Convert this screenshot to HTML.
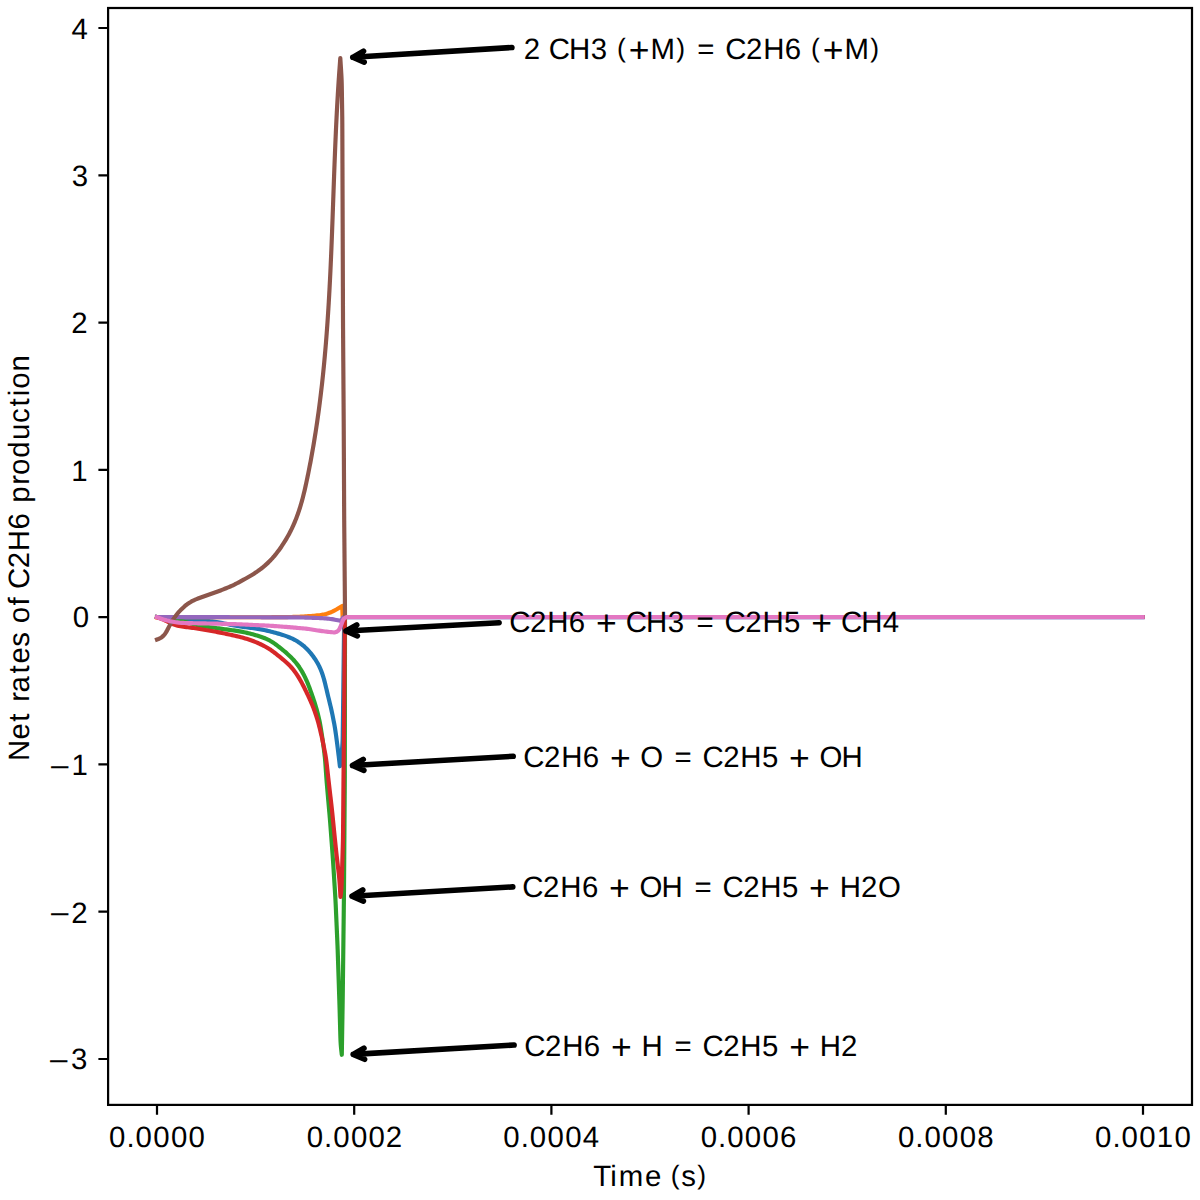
<!DOCTYPE html><html><head><meta charset="utf-8"><style>html,body{margin:0;padding:0;background:#fff;overflow:hidden;}svg{display:block;}text{font-family:"Liberation Sans",sans-serif;fill:#000;text-rendering:geometricPrecision;}</style></head><body>
<svg width="1200" height="1200" viewBox="0 0 1200 1200">
<rect width="1200" height="1200" fill="#fff"/>
<g fill="none" stroke-width="4.17" stroke-linecap="square" stroke-linejoin="round">
<polyline stroke="#1f77b4" points="157.00,617.00 158.46,617.32 159.93,617.63 161.40,617.93 162.87,618.23 164.34,618.51 165.81,618.77 167.29,619.01 168.77,619.22 170.25,619.42 171.74,619.59 173.23,619.75 174.72,619.88 176.21,619.99 177.71,620.09 179.20,620.17 180.70,620.24 182.20,620.29 183.69,620.34 185.19,620.39 186.69,620.42 188.19,620.46 189.69,620.49 191.19,620.52 192.68,620.55 194.18,620.58 195.68,620.61 197.18,620.64 198.68,620.68 200.18,620.71 201.67,620.75 203.17,620.79 204.67,620.85 206.16,620.92 207.66,621.01 209.15,621.12 210.63,621.26 212.12,621.43 213.60,621.62 215.08,621.84 216.56,622.08 218.04,622.33 219.51,622.59 220.98,622.87 222.46,623.15 223.93,623.44 225.40,623.73 226.87,624.03 228.34,624.32 229.81,624.60 231.28,624.89 232.75,625.16 234.23,625.43 235.70,625.69 237.18,625.94 238.66,626.19 240.14,626.42 241.62,626.65 243.10,626.86 244.59,627.07 246.07,627.27 247.56,627.47 249.04,627.66 250.53,627.85 252.02,628.04 253.50,628.24 254.99,628.44 256.47,628.65 257.95,628.87 259.43,629.12 260.90,629.38 262.37,629.66 263.84,629.96 265.30,630.27 266.76,630.60 268.22,630.95 269.68,631.30 271.13,631.67 272.58,632.04 274.03,632.42 275.48,632.81 276.92,633.21 278.36,633.62 279.80,634.04 281.23,634.47 282.66,634.92 284.08,635.39 285.50,635.88 286.90,636.39 288.30,636.93 289.68,637.49 291.05,638.08 292.41,638.70 293.74,639.36 295.06,640.06 296.35,640.79 297.62,641.57 298.87,642.38 300.10,643.22 301.30,644.10 302.48,645.01 303.64,645.95 304.76,646.92 305.85,647.93 306.91,648.98 307.94,650.05 308.95,651.15 309.93,652.28 310.88,653.43 311.81,654.60 312.72,655.78 313.60,656.99 314.45,658.22 315.28,659.46 316.09,660.71 316.87,661.99 317.62,663.28 318.34,664.59 319.02,665.91 319.67,667.25 320.28,668.61 320.87,669.99 321.42,671.37 321.94,672.77 322.44,674.18 322.90,675.60 323.35,677.03 323.76,678.47 324.16,679.91 324.55,681.36 324.92,682.81 325.28,684.26 325.63,685.72 325.98,687.17 326.33,688.63 326.67,690.09 327.01,691.55 327.36,693.01 327.70,694.47 328.05,695.93 328.40,697.38 328.75,698.84 329.11,700.30 329.47,701.75 329.82,703.21 330.18,704.66 330.53,706.12 330.87,707.58 331.21,709.04 331.53,710.50 331.85,711.97 332.16,713.43 332.47,714.90 332.77,716.37 333.06,717.84 333.35,719.31 333.64,720.78 333.93,722.25 334.20,723.72 334.47,725.20 334.73,726.67 334.98,728.15 335.21,729.63 335.44,731.11 335.65,732.59 335.86,734.08 336.07,735.56 336.27,737.05 336.47,738.53 336.67,740.02 336.87,741.50 337.06,742.99 337.26,744.48 337.45,745.96 337.64,747.45 337.83,748.94 338.02,750.42 338.20,751.91 338.38,753.40 338.56,754.89 338.74,756.37 338.91,757.86 339.09,759.35 339.26,760.84 339.44,762.33 339.61,763.82 339.78,765.31 339.90,766.30 340.09,764.81 340.28,763.33 340.47,761.84 340.65,760.35 340.84,758.87 341.03,757.38 341.22,755.89 341.40,754.40 341.58,752.92 341.76,751.43 341.93,749.94 342.08,748.45 342.22,746.96 342.34,745.47 342.44,743.98 342.52,742.48 342.59,740.99 342.64,739.49 342.67,737.99 342.70,736.49 342.73,735.00 342.75,733.50 342.77,732.00 342.79,730.50 342.81,729.00 342.83,727.50 342.85,726.00 342.87,724.51 342.89,723.01 342.91,721.51 342.93,720.01 342.95,718.51 342.97,717.01 342.99,715.51 343.01,714.02 343.03,712.52 343.05,711.02 343.07,709.52 343.09,708.02 343.11,706.52 343.13,705.02 343.15,703.52 343.17,702.03 343.19,700.53 343.21,699.03 343.23,697.53 343.25,696.03 343.27,694.53 343.28,693.03 343.30,691.54 343.32,690.04 343.34,688.54 343.36,687.04 343.37,685.54 343.39,684.04 343.41,682.54 343.43,681.04 343.45,679.55 343.46,678.05 343.48,676.55 343.50,675.05 343.52,673.55 343.54,672.05 343.56,670.55 343.57,669.05 343.59,667.56 343.61,666.06 343.63,664.56 343.65,663.06 343.66,661.56 343.68,660.06 343.70,658.56 343.72,657.07 343.74,655.57 343.75,654.07 343.77,652.57 343.79,651.07 343.81,649.57 343.83,648.07 343.84,646.57 343.86,645.08 343.88,643.58 343.90,642.08 343.92,640.58 343.93,639.08 343.95,637.58 343.97,636.08 343.99,634.58 344.01,633.09 344.03,631.59 344.04,630.09 344.06,628.59 344.08,627.09 344.10,625.59 344.12,624.09 344.13,622.60 344.15,621.10 344.17,619.60 344.19,618.10 344.20,617.10 1142.60,617.10"/>
<polyline stroke="#ff7f0e" points="157.00,617.30 158.50,617.30 159.99,617.30 161.49,617.30 162.99,617.30 164.49,617.29 165.98,617.29 167.48,617.29 168.98,617.29 170.48,617.29 171.97,617.29 173.47,617.29 174.97,617.29 176.46,617.28 177.96,617.28 179.46,617.28 180.96,617.28 182.45,617.28 183.95,617.28 185.45,617.28 186.94,617.28 188.44,617.27 189.94,617.27 191.44,617.27 192.93,617.27 194.43,617.27 195.93,617.27 197.43,617.27 198.92,617.27 200.42,617.26 201.92,617.26 203.41,617.26 204.91,617.26 206.41,617.26 207.91,617.26 209.40,617.26 210.90,617.26 212.40,617.25 213.90,617.25 215.39,617.25 216.89,617.25 218.39,617.25 219.88,617.25 221.38,617.25 222.88,617.25 224.38,617.25 225.87,617.24 227.37,617.24 228.87,617.24 230.36,617.24 231.86,617.24 233.36,617.24 234.86,617.24 236.35,617.24 237.85,617.23 239.35,617.23 240.85,617.23 242.34,617.23 243.84,617.23 245.34,617.23 246.83,617.23 248.33,617.23 249.83,617.22 251.33,617.22 252.82,617.22 254.32,617.22 255.82,617.22 257.31,617.22 258.81,617.22 260.31,617.22 261.81,617.21 263.30,617.21 264.80,617.21 266.30,617.21 267.80,617.21 269.29,617.21 270.79,617.21 272.29,617.20 273.78,617.20 275.28,617.19 276.78,617.19 278.28,617.18 279.77,617.16 281.27,617.15 282.77,617.13 284.26,617.10 285.76,617.08 287.26,617.05 288.76,617.02 290.25,616.99 291.75,616.96 293.25,616.92 294.74,616.89 296.24,616.84 297.73,616.79 299.23,616.73 300.72,616.66 302.22,616.58 303.71,616.50 305.21,616.41 306.70,616.31 308.20,616.20 309.69,616.09 311.18,615.98 312.67,615.86 314.16,615.73 315.65,615.59 317.14,615.44 318.62,615.26 320.10,615.07 321.58,614.84 323.04,614.57 324.50,614.27 325.94,613.92 327.36,613.51 328.77,613.06 330.16,612.55 331.52,611.98 332.86,611.36 334.18,610.68 335.47,609.97 336.75,609.23 338.01,608.46 339.27,607.69 340.53,606.92 341.78,606.16 342.20,605.90 342.60,617.00 1142.60,617.00"/>
<polyline stroke="#2ca02c" points="157.00,617.00 158.48,617.22 159.97,617.43 161.45,617.64 162.94,617.86 164.42,618.07 165.91,618.28 167.39,618.49 168.88,618.70 170.36,618.92 171.84,619.14 173.32,619.38 174.80,619.63 176.27,619.91 177.73,620.20 179.20,620.52 180.66,620.86 182.12,621.21 183.57,621.56 185.03,621.93 186.48,622.30 187.93,622.67 189.38,623.04 190.84,623.42 192.29,623.78 193.75,624.15 195.20,624.50 196.66,624.85 198.12,625.17 199.59,625.48 201.06,625.77 202.53,626.04 204.01,626.29 205.49,626.53 206.97,626.75 208.45,626.97 209.94,627.19 211.42,627.40 212.91,627.60 214.39,627.81 215.88,628.02 217.36,628.22 218.85,628.42 220.34,628.63 221.82,628.82 223.31,629.02 224.80,629.22 226.28,629.41 227.77,629.61 229.26,629.81 230.74,630.00 232.23,630.20 233.72,630.41 235.20,630.62 236.68,630.84 238.16,631.08 239.64,631.33 241.11,631.60 242.58,631.89 244.05,632.20 245.51,632.52 246.97,632.86 248.43,633.21 249.88,633.57 251.34,633.95 252.78,634.33 254.23,634.73 255.67,635.15 257.11,635.57 258.54,636.01 259.96,636.47 261.38,636.95 262.79,637.45 264.19,637.98 265.57,638.54 266.93,639.13 268.27,639.77 269.59,640.46 270.88,641.19 272.14,641.97 273.38,642.79 274.61,643.64 275.82,644.52 277.02,645.41 278.21,646.32 279.40,647.23 280.58,648.16 281.75,649.09 282.91,650.03 284.07,650.99 285.21,651.96 286.34,652.94 287.45,653.94 288.55,654.96 289.64,655.98 290.72,657.03 291.78,658.08 292.82,659.16 293.83,660.25 294.82,661.37 295.79,662.51 296.72,663.67 297.63,664.86 298.51,666.06 299.37,667.29 300.19,668.53 300.99,669.80 301.76,671.08 302.50,672.37 303.22,673.69 303.91,675.01 304.58,676.35 305.23,677.70 305.87,679.06 306.48,680.42 307.07,681.80 307.65,683.18 308.21,684.57 308.76,685.96 309.30,687.36 309.82,688.77 310.34,690.18 310.85,691.59 311.35,693.00 311.85,694.42 312.34,695.83 312.83,697.25 313.31,698.67 313.78,700.09 314.25,701.52 314.71,702.94 315.16,704.37 315.60,705.81 316.02,707.25 316.43,708.69 316.84,710.13 317.23,711.58 317.62,713.03 317.99,714.48 318.36,715.93 318.71,717.39 319.04,718.85 319.36,720.31 319.66,721.78 319.94,723.25 320.21,724.73 320.47,726.20 320.72,727.68 320.96,729.16 321.20,730.64 321.43,732.12 321.67,733.61 321.90,735.09 322.12,736.57 322.34,738.05 322.56,739.54 322.78,741.02 322.98,742.51 323.19,743.99 323.39,745.48 323.59,746.97 323.79,748.45 323.98,749.94 324.17,751.43 324.36,752.92 324.53,754.40 324.70,755.89 324.86,757.39 325.00,758.88 325.13,760.37 325.26,761.87 325.37,763.36 325.48,764.86 325.59,766.35 325.69,767.85 325.79,769.34 325.89,770.84 325.99,772.34 326.09,773.83 326.20,775.33 326.30,776.83 326.41,778.32 326.53,779.82 326.64,781.31 326.76,782.81 326.89,784.30 327.01,785.80 327.14,787.29 327.27,788.79 327.40,790.28 327.53,791.78 327.66,793.27 327.79,794.76 327.92,796.26 328.05,797.75 328.18,799.25 328.31,800.74 328.45,802.23 328.58,803.73 328.71,805.22 328.84,806.72 328.97,808.21 329.10,809.71 329.23,811.20 329.36,812.69 329.49,814.19 329.62,815.68 329.74,817.18 329.87,818.67 329.99,820.17 330.11,821.66 330.23,823.16 330.34,824.65 330.46,826.15 330.57,827.64 330.68,829.14 330.80,830.64 330.91,832.13 331.02,833.63 331.13,835.12 331.25,836.62 331.36,838.11 331.47,839.61 331.58,841.11 331.70,842.60 331.81,844.10 331.92,845.59 332.03,847.09 332.14,848.58 332.26,850.08 332.37,851.58 332.48,853.07 332.59,854.57 332.70,856.06 332.80,857.56 332.91,859.06 333.01,860.55 333.11,862.05 333.21,863.55 333.31,865.04 333.41,866.54 333.50,868.04 333.60,869.53 333.69,871.03 333.78,872.53 333.88,874.02 333.97,875.52 334.06,877.02 334.16,878.52 334.25,880.01 334.34,881.51 334.44,883.01 334.53,884.50 334.62,886.00 334.72,887.50 334.81,888.99 334.90,890.49 335.00,891.99 335.09,893.49 335.18,894.98 335.27,896.48 335.35,897.98 335.44,899.48 335.51,900.97 335.59,902.47 335.66,903.97 335.74,905.47 335.80,906.97 335.87,908.46 335.94,909.96 336.01,911.46 336.07,912.96 336.14,914.46 336.21,915.96 336.27,917.45 336.34,918.95 336.40,920.45 336.47,921.95 336.54,923.45 336.60,924.95 336.67,926.45 336.74,927.94 336.80,929.44 336.87,930.94 336.93,932.44 337.00,933.94 337.07,935.44 337.13,936.93 337.20,938.43 337.26,939.93 337.33,941.43 337.39,942.93 337.45,944.43 337.52,945.93 337.57,947.43 337.63,948.92 337.69,950.42 337.74,951.92 337.79,953.42 337.84,954.92 337.89,956.42 337.94,957.92 337.99,959.42 338.04,960.92 338.09,962.42 338.14,963.91 338.19,965.41 338.24,966.91 338.29,968.41 338.34,969.91 338.39,971.41 338.44,972.91 338.49,974.41 338.54,975.91 338.59,977.41 338.64,978.91 338.69,980.40 338.74,981.90 338.79,983.40 338.84,984.90 338.89,986.40 338.93,987.90 338.98,989.40 339.03,990.90 339.08,992.40 339.13,993.90 339.18,995.40 339.23,996.90 339.28,998.39 339.33,999.89 339.38,1001.39 339.42,1002.89 339.47,1004.39 339.52,1005.89 339.56,1007.39 339.60,1008.89 339.65,1010.39 339.69,1011.89 339.73,1013.39 339.77,1014.89 339.81,1016.39 339.85,1017.88 339.90,1019.38 339.94,1020.88 339.98,1022.38 340.02,1023.88 340.06,1025.38 340.10,1026.88 340.14,1028.38 340.18,1029.88 340.23,1031.38 340.27,1032.88 340.31,1034.38 340.36,1035.88 340.40,1037.38 340.46,1038.87 340.52,1040.37 340.59,1041.87 340.68,1043.37 340.78,1044.86 340.90,1046.35 341.03,1047.85 341.18,1049.34 341.34,1050.83 341.51,1052.32 341.68,1053.81 341.80,1054.80 341.82,1053.30 341.85,1051.80 341.87,1050.30 341.90,1048.80 341.92,1047.30 341.95,1045.80 341.97,1044.31 342.00,1042.81 342.02,1041.31 342.05,1039.81 342.07,1038.31 342.10,1036.81 342.12,1035.31 342.14,1033.81 342.17,1032.31 342.19,1030.81 342.22,1029.31 342.24,1027.81 342.27,1026.32 342.29,1024.82 342.32,1023.32 342.34,1021.82 342.37,1020.32 342.39,1018.82 342.42,1017.32 342.44,1015.82 342.46,1014.32 342.49,1012.82 342.51,1011.32 342.54,1009.82 342.56,1008.33 342.59,1006.83 342.61,1005.33 342.63,1003.83 342.66,1002.33 342.68,1000.83 342.70,999.33 342.72,997.83 342.74,996.33 342.76,994.83 342.78,993.33 342.80,991.83 342.82,990.33 342.83,988.84 342.85,987.34 342.87,985.84 342.89,984.34 342.91,982.84 342.92,981.34 342.94,979.84 342.96,978.34 342.98,976.84 343.00,975.34 343.01,973.84 343.03,972.34 343.05,970.84 343.07,969.35 343.09,967.85 343.10,966.35 343.12,964.85 343.14,963.35 343.16,961.85 343.18,960.35 343.19,958.85 343.21,957.35 343.23,955.85 343.25,954.35 343.27,952.85 343.28,951.35 343.30,949.85 343.32,948.36 343.34,946.86 343.36,945.36 343.37,943.86 343.39,942.36 343.41,940.86 343.43,939.36 343.45,937.86 343.46,936.36 343.48,934.86 343.50,933.36 343.52,931.86 343.54,930.36 343.55,928.86 343.57,927.37 343.59,925.87 343.61,924.37 343.63,922.87 343.64,921.37 343.66,919.87 343.68,918.37 343.70,916.87 343.72,915.37 343.73,913.87 343.75,912.37 343.77,910.87 343.79,909.37 343.80,907.88 343.82,906.38 343.84,904.88 343.86,903.38 343.87,901.88 343.89,900.38 343.90,898.88 343.92,897.38 343.93,895.88 343.94,894.38 343.95,892.88 343.96,891.38 343.98,889.88 343.99,888.38 344.00,886.88 344.01,885.39 344.02,883.89 344.03,882.39 344.04,880.89 344.05,879.39 344.07,877.89 344.08,876.39 344.09,874.89 344.10,873.39 344.11,871.89 344.12,870.39 344.13,868.89 344.14,867.39 344.16,865.89 344.17,864.39 344.18,862.90 344.19,861.40 344.20,859.90 344.21,858.40 344.22,856.90 344.23,855.40 344.25,853.90 344.26,852.40 344.27,850.90 344.28,849.40 344.29,847.90 344.30,846.40 344.31,844.90 344.32,843.40 344.34,841.90 344.35,840.41 344.36,838.91 344.37,837.41 344.38,835.91 344.39,834.41 344.40,832.91 344.41,831.41 344.43,829.91 344.44,828.41 344.45,826.91 344.46,825.41 344.47,823.91 344.48,822.41 344.49,820.91 344.50,819.41 344.52,817.92 344.53,816.42 344.54,814.92 344.55,813.42 344.56,811.92 344.57,810.42 344.58,808.92 344.59,807.42 344.61,805.92 344.62,804.42 344.63,802.92 344.64,801.42 344.65,799.92 344.66,798.42 344.67,796.92 344.68,795.43 344.70,793.93 344.71,792.43 344.72,790.93 344.73,789.43 344.74,787.93 344.75,786.43 344.76,784.93 344.77,783.43 344.78,781.93 344.79,780.43 344.79,778.93 344.80,777.43 344.80,775.93 344.80,774.43 344.81,772.94 344.81,771.44 344.81,769.94 344.81,768.44 344.82,766.94 344.82,765.44 344.82,763.94 344.82,762.44 344.82,760.94 344.83,759.44 344.83,757.94 344.83,756.44 344.83,754.94 344.83,753.44 344.83,751.94 344.84,750.44 344.84,748.95 344.84,747.45 344.84,745.95 344.84,744.45 344.85,742.95 344.85,741.45 344.85,739.95 344.85,738.45 344.85,736.95 344.85,735.45 344.86,733.95 344.86,732.45 344.86,730.95 344.86,729.45 344.86,727.95 344.87,726.45 344.87,724.96 344.87,723.46 344.87,721.96 344.87,720.46 344.87,718.96 344.88,717.46 344.88,715.96 344.88,714.46 344.88,712.96 344.88,711.46 344.89,709.96 344.89,708.46 344.89,706.96 344.89,705.46 344.89,703.96 344.90,702.46 344.90,700.97 344.90,699.47 344.90,697.97 344.90,696.47 344.90,694.97 344.91,693.47 344.91,691.97 344.91,690.47 344.91,688.97 344.91,687.47 344.92,685.97 344.92,684.47 344.92,682.97 344.92,681.47 344.92,679.97 344.92,678.47 344.93,676.98 344.93,675.48 344.93,673.98 344.93,672.48 344.93,670.98 344.94,669.48 344.94,667.98 344.94,666.48 344.94,664.98 344.94,663.48 344.94,661.98 344.95,660.48 344.95,658.98 344.95,657.48 344.95,655.98 344.95,654.48 344.96,652.99 344.96,651.49 344.96,649.99 344.96,648.49 344.96,646.99 344.97,645.49 344.97,643.99 344.97,642.49 344.97,640.99 344.97,639.49 344.97,637.99 344.98,636.49 344.98,634.99 344.98,633.49 344.98,631.99 344.98,630.49 344.99,629.00 344.99,627.50 344.99,626.00 344.99,624.50 344.99,623.00 344.99,621.50 345.00,620.00 345.00,618.50 345.00,617.00 1142.60,617.00"/>
<polyline stroke="#d62728" points="157.00,617.20 158.41,617.70 159.81,618.21 161.20,618.74 162.58,619.30 163.95,619.89 165.30,620.52 166.63,621.17 167.97,621.84 169.30,622.50 170.64,623.15 171.99,623.76 173.35,624.32 174.74,624.82 176.15,625.27 177.57,625.65 179.02,625.98 180.48,626.26 181.95,626.51 183.43,626.72 184.91,626.91 186.39,627.09 187.88,627.27 189.37,627.45 190.85,627.64 192.34,627.85 193.82,628.06 195.30,628.28 196.78,628.51 198.26,628.74 199.74,628.98 201.22,629.22 202.70,629.47 204.18,629.72 205.65,629.97 207.13,630.22 208.61,630.48 210.08,630.74 211.56,631.00 213.03,631.26 214.51,631.53 215.98,631.80 217.46,632.08 218.93,632.36 220.40,632.65 221.87,632.94 223.34,633.24 224.80,633.55 226.27,633.86 227.73,634.17 229.20,634.48 230.66,634.80 232.13,635.12 233.59,635.44 235.05,635.77 236.51,636.11 237.97,636.46 239.42,636.82 240.87,637.20 242.32,637.59 243.76,638.00 245.19,638.42 246.62,638.86 248.05,639.32 249.47,639.79 250.88,640.28 252.29,640.79 253.69,641.32 255.09,641.86 256.47,642.42 257.85,643.00 259.22,643.61 260.58,644.23 261.93,644.88 263.27,645.55 264.59,646.24 265.90,646.96 267.20,647.70 268.47,648.47 269.73,649.27 270.97,650.10 272.19,650.96 273.40,651.84 274.59,652.74 275.78,653.66 276.95,654.58 278.13,655.52 279.29,656.45 280.46,657.40 281.62,658.35 282.77,659.30 283.91,660.27 285.04,661.25 286.16,662.24 287.27,663.25 288.35,664.28 289.42,665.32 290.46,666.39 291.46,667.49 292.44,668.61 293.39,669.76 294.30,670.94 295.19,672.14 296.05,673.36 296.88,674.60 297.70,675.85 298.49,677.12 299.26,678.40 300.01,679.70 300.74,681.00 301.46,682.32 302.16,683.64 302.86,684.96 303.54,686.30 304.22,687.63 304.89,688.97 305.55,690.32 306.21,691.66 306.86,693.01 307.50,694.37 308.14,695.72 308.78,697.08 309.40,698.44 310.03,699.80 310.64,701.17 311.24,702.54 311.83,703.92 312.40,705.30 312.96,706.69 313.50,708.09 314.02,709.49 314.53,710.90 315.03,712.31 315.52,713.72 316.00,715.14 316.47,716.56 316.93,717.99 317.37,719.42 317.79,720.86 318.19,722.30 318.58,723.74 318.96,725.19 319.32,726.65 319.68,728.10 320.04,729.56 320.39,731.01 320.73,732.47 321.08,733.93 321.42,735.39 321.75,736.85 322.08,738.31 322.40,739.78 322.71,741.24 323.02,742.71 323.32,744.18 323.62,745.64 323.92,747.11 324.21,748.58 324.50,750.05 324.78,751.52 325.06,753.00 325.32,754.47 325.58,755.95 325.81,757.42 326.04,758.91 326.25,760.39 326.44,761.87 326.63,763.36 326.80,764.85 326.98,766.34 327.14,767.82 327.31,769.31 327.48,770.80 327.64,772.29 327.81,773.78 327.98,775.27 328.14,776.76 328.31,778.25 328.48,779.74 328.65,781.23 328.82,782.72 328.99,784.21 329.17,785.69 329.34,787.18 329.51,788.67 329.69,790.16 329.86,791.65 330.03,793.14 330.21,794.63 330.38,796.12 330.55,797.60 330.73,799.09 330.90,800.58 331.07,802.07 331.24,803.56 331.42,805.05 331.58,806.54 331.75,808.03 331.91,809.52 332.08,811.01 332.23,812.50 332.39,813.99 332.54,815.48 332.69,816.97 332.84,818.46 332.99,819.95 333.14,821.44 333.29,822.93 333.44,824.42 333.59,825.92 333.74,827.41 333.89,828.90 334.04,830.39 334.19,831.88 334.34,833.37 334.49,834.86 334.64,836.35 334.78,837.85 334.93,839.34 335.08,840.83 335.23,842.32 335.39,843.81 335.54,845.30 335.69,846.79 335.85,848.28 336.01,849.77 336.17,851.26 336.34,852.75 336.50,854.24 336.67,855.73 336.84,857.22 337.02,858.71 337.19,860.20 337.36,861.68 337.54,863.17 337.71,864.66 337.88,866.15 338.06,867.64 338.23,869.13 338.40,870.62 338.57,872.11 338.74,873.59 338.90,875.08 339.06,876.57 339.21,878.06 339.35,879.56 339.47,881.05 339.59,882.54 339.70,884.04 339.81,885.53 339.90,887.03 340.00,888.52 340.09,890.02 340.18,891.51 340.26,893.01 340.35,894.51 340.44,896.00 340.50,897.00 340.68,895.51 340.86,894.03 341.03,892.54 341.18,891.05 341.31,889.56 341.43,888.07 341.52,886.58 341.60,885.09 341.67,883.59 341.72,882.09 341.78,880.60 341.82,879.10 341.87,877.60 341.92,876.11 341.96,874.61 342.01,873.11 342.05,871.62 342.10,870.12 342.14,868.62 342.19,867.12 342.23,865.63 342.28,864.13 342.32,862.63 342.37,861.14 342.41,859.64 342.46,858.14 342.50,856.64 342.55,855.15 342.59,853.65 342.64,852.15 342.68,850.65 342.72,849.16 342.77,847.66 342.81,846.16 342.85,844.67 342.89,843.17 342.92,841.67 342.95,840.17 342.98,838.68 343.00,837.18 343.02,835.68 343.04,834.18 343.06,832.69 343.07,831.19 343.09,829.69 343.10,828.19 343.11,826.69 343.12,825.20 343.14,823.70 343.15,822.20 343.16,820.70 343.17,819.21 343.19,817.71 343.20,816.21 343.21,814.71 343.22,813.21 343.24,811.72 343.25,810.22 343.26,808.72 343.27,807.22 343.29,805.72 343.30,804.23 343.31,802.73 343.32,801.23 343.34,799.73 343.35,798.24 343.36,796.74 343.37,795.24 343.39,793.74 343.40,792.24 343.41,790.75 343.42,789.25 343.44,787.75 343.45,786.25 343.46,784.76 343.47,783.26 343.49,781.76 343.50,780.26 343.51,778.76 343.53,777.27 343.54,775.77 343.56,774.27 343.57,772.77 343.59,771.28 343.60,769.78 343.62,768.28 343.63,766.78 343.65,765.28 343.66,763.79 343.68,762.29 343.69,760.79 343.71,759.29 343.72,757.80 343.74,756.30 343.75,754.80 343.77,753.30 343.78,751.80 343.80,750.31 343.81,748.81 343.83,747.31 343.84,745.81 343.86,744.31 343.87,742.82 343.89,741.32 343.90,739.82 343.92,738.32 343.93,736.83 343.95,735.33 343.96,733.83 343.98,732.33 343.99,730.83 344.01,729.34 344.02,727.84 344.04,726.34 344.05,724.84 344.07,723.35 344.08,721.85 344.10,720.35 344.11,718.85 344.13,717.35 344.14,715.86 344.16,714.36 344.17,712.86 344.19,711.36 344.20,709.87 344.22,708.37 344.23,706.87 344.24,705.37 344.26,703.87 344.27,702.38 344.28,700.88 344.30,699.38 344.31,697.88 344.32,696.39 344.33,694.89 344.34,693.39 344.35,691.89 344.36,690.39 344.37,688.90 344.38,687.40 344.38,685.90 344.39,684.40 344.40,682.90 344.41,681.41 344.42,679.91 344.43,678.41 344.44,676.91 344.45,675.42 344.46,673.92 344.47,672.42 344.48,670.92 344.48,669.42 344.49,667.93 344.50,666.43 344.51,664.93 344.52,663.43 344.53,661.94 344.54,660.44 344.55,658.94 344.56,657.44 344.57,655.94 344.57,654.45 344.58,652.95 344.59,651.45 344.60,649.95 344.61,648.45 344.62,646.96 344.63,645.46 344.64,643.96 344.65,642.46 344.66,640.97 344.66,639.47 344.67,637.97 344.68,636.47 344.69,634.97 344.70,633.48 344.71,631.98 344.72,630.48 344.73,628.98 344.74,627.48 344.75,625.99 344.75,624.49 344.76,622.99 344.77,621.49 344.78,620.00 344.79,618.50 344.80,617.00 1142.60,617.00"/>
<polyline stroke="#9467bd" points="157.00,617.00 158.50,617.00 159.99,617.01 161.49,617.01 162.98,617.02 164.48,617.02 165.98,617.03 167.47,617.03 168.97,617.03 170.46,617.04 171.96,617.04 173.46,617.05 174.95,617.05 176.45,617.05 177.95,617.06 179.44,617.06 180.94,617.07 182.43,617.07 183.93,617.08 185.43,617.08 186.92,617.08 188.42,617.09 189.91,617.09 191.41,617.10 192.91,617.10 194.40,617.10 195.90,617.11 197.39,617.11 198.89,617.12 200.39,617.12 201.88,617.13 203.38,617.13 204.88,617.13 206.37,617.14 207.87,617.14 209.36,617.15 210.86,617.15 212.36,617.15 213.85,617.16 215.35,617.16 216.84,617.17 218.34,617.17 219.84,617.18 221.33,617.18 222.83,617.18 224.32,617.19 225.82,617.19 227.32,617.20 228.81,617.20 230.31,617.21 231.81,617.21 233.30,617.21 234.80,617.22 236.29,617.22 237.79,617.23 239.29,617.23 240.78,617.23 242.28,617.24 243.77,617.24 245.27,617.25 246.77,617.25 248.26,617.26 249.76,617.26 251.25,617.26 252.75,617.27 254.25,617.27 255.74,617.28 257.24,617.28 258.74,617.28 260.23,617.29 261.73,617.29 263.22,617.30 264.72,617.30 266.22,617.31 267.71,617.31 269.21,617.31 270.70,617.32 272.20,617.32 273.70,617.33 275.19,617.33 276.69,617.33 278.18,617.34 279.68,617.34 281.18,617.35 282.67,617.35 284.17,617.36 285.67,617.36 287.16,617.36 288.66,617.37 290.15,617.37 291.65,617.38 293.15,617.39 294.64,617.40 296.14,617.41 297.63,617.42 299.13,617.44 300.63,617.47 302.12,617.50 303.62,617.54 305.11,617.58 306.61,617.62 308.10,617.66 309.60,617.71 311.09,617.76 312.59,617.80 314.08,617.85 315.58,617.90 317.07,617.96 318.57,618.01 320.06,618.07 321.56,618.15 323.05,618.23 324.54,618.33 326.03,618.45 327.52,618.59 329.00,618.76 330.48,618.95 331.96,619.17 333.43,619.41 334.90,619.68 336.36,619.96 337.83,620.27 339.29,620.58 340.75,620.90 343.50,617.00 1142.60,617.00"/>
<polyline stroke="#8c564b" points="157.00,639.50 158.38,639.01 159.72,638.44 160.99,637.74 162.17,636.90 163.26,635.92 164.25,634.84 165.15,633.67 165.97,632.43 166.73,631.15 167.44,629.83 168.11,628.50 168.79,627.16 169.47,625.83 170.18,624.51 170.92,623.21 171.68,621.91 172.46,620.63 173.26,619.37 174.09,618.12 174.94,616.89 175.83,615.69 176.74,614.50 177.68,613.33 178.65,612.19 179.65,611.08 180.69,610.01 181.76,608.96 182.84,607.93 183.95,606.92 185.07,605.93 186.22,604.98 187.41,604.08 188.64,603.23 189.90,602.43 191.18,601.67 192.50,600.95 193.84,600.29 195.20,599.68 196.58,599.11 197.98,598.57 199.38,598.04 200.78,597.51 202.19,596.99 203.59,596.46 205.00,595.95 206.41,595.43 207.82,594.93 209.24,594.43 210.65,593.94 212.07,593.44 213.49,592.95 214.90,592.46 216.32,591.96 217.73,591.46 219.14,590.95 220.55,590.43 221.95,589.89 223.34,589.33 224.73,588.78 226.12,588.21 227.51,587.65 228.90,587.08 230.28,586.50 231.66,585.90 233.02,585.28 234.37,584.63 235.70,583.95 237.03,583.25 238.35,582.54 239.67,581.83 240.99,581.11 242.30,580.39 243.62,579.68 244.93,578.95 246.25,578.23 247.56,577.50 248.86,576.76 250.16,576.01 251.45,575.24 252.73,574.46 253.99,573.66 255.25,572.84 256.50,572.01 257.73,571.15 258.95,570.28 260.16,569.39 261.35,568.48 262.52,567.55 263.68,566.60 264.83,565.64 265.95,564.65 267.06,563.64 268.15,562.61 269.22,561.56 270.27,560.49 271.31,559.40 272.32,558.30 273.31,557.18 274.29,556.04 275.25,554.89 276.19,553.72 277.11,552.54 278.02,551.34 278.91,550.14 279.79,548.92 280.65,547.70 281.51,546.47 282.34,545.22 283.17,543.97 283.98,542.71 284.78,541.44 285.56,540.16 286.33,538.87 287.08,537.57 287.82,536.27 288.54,534.96 289.25,533.64 289.95,532.31 290.63,530.97 291.30,529.63 291.95,528.28 292.59,526.92 293.21,525.56 293.82,524.19 294.41,522.81 294.99,521.43 295.56,520.04 296.11,518.64 296.65,517.24 297.17,515.84 297.69,514.43 298.18,513.02 298.67,511.60 299.15,510.17 299.61,508.75 300.06,507.32 300.50,505.88 300.93,504.45 301.34,503.01 301.75,501.56 302.15,500.12 302.54,498.67 302.92,497.22 303.29,495.76 303.65,494.31 304.01,492.85 304.36,491.39 304.70,489.93 305.04,488.47 305.37,487.01 305.69,485.54 306.01,484.08 306.33,482.61 306.64,481.15 306.95,479.68 307.26,478.21 307.56,476.74 307.87,475.27 308.17,473.80 308.46,472.33 308.76,470.86 309.05,469.39 309.34,467.92 309.62,466.45 309.91,464.97 310.19,463.50 310.47,462.03 310.75,460.55 311.02,459.08 311.29,457.60 311.56,456.13 311.83,454.65 312.09,453.18 312.36,451.70 312.62,450.22 312.88,448.74 313.13,447.27 313.38,445.79 313.63,444.31 313.88,442.83 314.13,441.35 314.37,439.87 314.61,438.39 314.85,436.91 315.09,435.43 315.33,433.95 315.56,432.47 315.79,430.98 316.02,429.50 316.24,428.02 316.47,426.54 316.69,425.05 316.91,423.57 317.13,422.08 317.34,420.60 317.55,419.12 317.76,417.63 317.97,416.15 318.18,414.66 318.39,413.17 318.59,411.69 318.79,410.20 318.99,408.71 319.18,407.23 319.38,405.74 319.57,404.25 319.76,402.77 319.95,401.28 320.14,399.79 320.32,398.30 320.51,396.81 320.69,395.32 320.87,393.83 321.04,392.34 321.22,390.85 321.39,389.36 321.56,387.87 321.73,386.38 321.90,384.89 322.07,383.40 322.23,381.91 322.39,380.42 322.55,378.93 322.71,377.44 322.87,375.95 323.03,374.46 323.18,372.96 323.33,371.47 323.48,369.98 323.63,368.49 323.78,366.99 323.93,365.50 324.07,364.01 324.21,362.52 324.35,361.02 324.49,359.53 324.63,358.03 324.77,356.54 324.90,355.05 325.03,353.55 325.16,352.06 325.29,350.57 325.42,349.07 325.55,347.58 325.67,346.08 325.80,344.59 325.92,343.09 326.04,341.60 326.16,340.10 326.28,338.61 326.40,337.11 326.51,335.62 326.63,334.12 326.74,332.62 326.85,331.13 326.96,329.63 327.07,328.14 327.18,326.64 327.29,325.15 327.39,323.65 327.50,322.15 327.60,320.66 327.70,319.16 327.80,317.66 327.90,316.17 328.00,314.67 328.10,313.17 328.19,311.68 328.29,310.18 328.38,308.68 328.47,307.19 328.57,305.69 328.66,304.19 328.75,302.69 328.83,301.20 328.92,299.70 329.01,298.20 329.09,296.70 329.18,295.21 329.26,293.71 329.34,292.21 329.43,290.71 329.51,289.22 329.59,287.72 329.66,286.22 329.74,284.72 329.82,283.23 329.90,281.73 329.97,280.23 330.05,278.73 330.12,277.23 330.19,275.74 330.27,274.24 330.34,272.74 330.41,271.24 330.48,269.74 330.55,268.24 330.62,266.75 330.69,265.25 330.75,263.75 330.82,262.25 330.89,260.75 330.95,259.25 331.02,257.76 331.08,256.26 331.15,254.76 331.21,253.26 331.27,251.76 331.34,250.26 331.40,248.76 331.46,247.27 331.52,245.77 331.58,244.27 331.64,242.77 331.70,241.27 331.76,239.77 331.82,238.27 331.88,236.77 331.93,235.28 331.99,233.78 332.05,232.28 332.11,230.78 332.16,229.28 332.22,227.78 332.27,226.28 332.33,224.78 332.39,223.29 332.44,221.79 332.50,220.29 332.55,218.79 332.61,217.29 332.66,215.79 332.71,214.29 332.77,212.79 332.82,211.29 332.88,209.80 332.93,208.30 332.98,206.80 333.04,205.30 333.09,203.80 333.14,202.30 333.20,200.80 333.25,199.30 333.30,197.80 333.36,196.30 333.41,194.81 333.46,193.31 333.52,191.81 333.57,190.31 333.62,188.81 333.68,187.31 333.73,185.81 333.79,184.31 333.84,182.81 333.89,181.32 333.95,179.82 334.00,178.32 334.06,176.82 334.11,175.32 334.17,173.82 334.22,172.32 334.28,170.82 334.34,169.32 334.39,167.83 334.45,166.33 334.51,164.83 334.56,163.33 334.62,161.83 334.68,160.33 334.74,158.83 334.80,157.33 334.86,155.84 334.92,154.34 334.98,152.84 335.04,151.34 335.10,149.84 335.16,148.34 335.22,146.84 335.28,145.34 335.35,143.85 335.41,142.35 335.48,140.85 335.54,139.35 335.61,137.85 335.67,136.35 335.74,134.86 335.81,133.36 335.87,131.86 335.94,130.36 336.01,128.86 336.08,127.36 336.15,125.87 336.22,124.37 336.29,122.87 336.37,121.37 336.44,119.87 336.52,118.38 336.59,116.88 336.67,115.38 336.74,113.88 336.82,112.38 336.90,110.89 336.98,109.39 337.06,107.89 337.14,106.39 337.22,104.89 337.31,103.40 337.39,101.90 337.48,100.40 337.56,98.90 337.65,97.41 337.74,95.91 337.82,94.41 337.91,92.92 338.01,91.42 338.10,89.92 338.19,88.42 338.29,86.93 338.38,85.43 338.48,83.93 338.57,82.44 338.67,80.94 338.77,79.44 338.87,77.95 338.98,76.45 339.08,74.95 339.18,73.46 339.29,71.96 339.40,70.47 339.51,68.97 339.62,67.47 339.73,65.98 339.84,64.48 339.95,62.99 340.06,61.49 340.16,60.00 340.27,58.50 340.30,58.00 340.40,59.50 340.49,60.99 340.59,62.49 340.68,63.98 340.78,65.48 340.87,66.97 340.97,68.47 341.06,69.97 341.15,71.46 341.24,72.96 341.33,74.45 341.41,75.95 341.49,77.45 341.56,78.94 341.62,80.44 341.67,81.94 341.72,83.44 341.75,84.93 341.79,86.43 341.81,87.93 341.84,89.43 341.86,90.93 341.89,92.43 341.91,93.93 341.93,95.42 341.95,96.92 341.98,98.42 342.00,99.92 342.02,101.42 342.04,102.92 342.07,104.42 342.09,105.91 342.11,107.41 342.13,108.91 342.16,110.41 342.18,111.91 342.20,113.41 342.22,114.91 342.24,116.41 342.26,117.90 342.27,119.40 342.29,120.90 342.30,122.40 342.31,123.90 342.31,125.40 342.32,126.90 342.33,128.40 342.33,129.89 342.34,131.39 342.35,132.89 342.35,134.39 342.36,135.89 342.36,137.39 342.37,138.89 342.37,140.39 342.38,141.88 342.38,143.38 342.39,144.88 342.39,146.38 342.40,147.88 342.40,149.38 342.41,150.88 342.41,152.38 342.42,153.87 342.42,155.37 342.43,156.87 342.43,158.37 342.44,159.87 342.44,161.37 342.45,162.87 342.46,164.37 342.46,165.87 342.47,167.36 342.47,168.86 342.48,170.36 342.48,171.86 342.49,173.36 342.49,174.86 342.50,176.36 342.50,177.86 342.51,179.35 342.51,180.85 342.52,182.35 342.52,183.85 342.53,185.35 342.53,186.85 342.54,188.35 342.54,189.85 342.55,191.34 342.55,192.84 342.56,194.34 342.57,195.84 342.57,197.34 342.58,198.84 342.58,200.34 342.59,201.84 342.59,203.34 342.60,204.83 342.60,206.33 342.61,207.83 342.61,209.33 342.62,210.83 342.62,212.33 342.63,213.83 342.63,215.33 342.64,216.82 342.64,218.32 342.65,219.82 342.65,221.32 342.66,222.82 342.67,224.32 342.67,225.82 342.68,227.32 342.68,228.82 342.69,230.31 342.69,231.81 342.70,233.31 342.70,234.81 342.71,236.31 342.71,237.81 342.72,239.31 342.72,240.81 342.73,242.30 342.73,243.80 342.74,245.30 342.74,246.80 342.75,248.30 342.75,249.80 342.76,251.30 342.76,252.80 342.77,254.29 342.78,255.79 342.78,257.29 342.79,258.79 342.79,260.29 342.80,261.79 342.80,263.29 342.81,264.79 342.81,266.29 342.82,267.78 342.82,269.28 342.83,270.78 342.83,272.28 342.84,273.78 342.84,275.28 342.85,276.78 342.85,278.28 342.86,279.77 342.86,281.27 342.87,282.77 342.87,284.27 342.88,285.77 342.89,287.27 342.89,288.77 342.90,290.27 342.90,291.76 342.91,293.26 342.91,294.76 342.92,296.26 342.92,297.76 342.93,299.26 342.93,300.76 342.94,302.26 342.94,303.76 342.95,305.25 342.95,306.75 342.96,308.25 342.96,309.75 342.97,311.25 342.98,312.75 342.98,314.25 342.99,315.75 342.99,317.24 343.00,318.74 343.01,320.24 343.02,321.74 343.03,323.24 343.03,324.74 343.04,326.24 343.05,327.74 343.06,329.23 343.08,330.73 343.09,332.23 343.10,333.73 343.11,335.23 343.12,336.73 343.13,338.23 343.14,339.73 343.15,341.22 343.16,342.72 343.17,344.22 343.18,345.72 343.19,347.22 343.20,348.72 343.21,350.22 343.22,351.72 343.23,353.22 343.24,354.71 343.25,356.21 343.26,357.71 343.27,359.21 343.28,360.71 343.30,362.21 343.31,363.71 343.32,365.21 343.33,366.70 343.34,368.20 343.35,369.70 343.36,371.20 343.37,372.70 343.38,374.20 343.39,375.70 343.40,377.20 343.41,378.69 343.42,380.19 343.43,381.69 343.44,383.19 343.45,384.69 343.46,386.19 343.47,387.69 343.48,389.19 343.49,390.68 343.51,392.18 343.52,393.68 343.53,395.18 343.54,396.68 343.55,398.18 343.56,399.68 343.57,401.18 343.58,402.67 343.59,404.17 343.60,405.67 343.61,407.17 343.62,408.67 343.63,410.17 343.64,411.67 343.65,413.17 343.66,414.66 343.67,416.16 343.68,417.66 343.69,419.16 343.70,420.66 343.71,422.16 343.72,423.66 343.72,425.16 343.73,426.66 343.74,428.15 343.75,429.65 343.76,431.15 343.76,432.65 343.77,434.15 343.78,435.65 343.79,437.15 343.79,438.65 343.80,440.14 343.81,441.64 343.82,443.14 343.82,444.64 343.83,446.14 343.84,447.64 343.85,449.14 343.85,450.64 343.86,452.13 343.87,453.63 343.88,455.13 343.88,456.63 343.89,458.13 343.90,459.63 343.91,461.13 343.91,462.63 343.92,464.13 343.93,465.62 343.94,467.12 343.94,468.62 343.95,470.12 343.96,471.62 343.97,473.12 343.97,474.62 343.98,476.12 343.99,477.61 344.00,479.11 344.00,480.61 344.01,482.11 344.02,483.61 344.03,485.11 344.03,486.61 344.04,488.11 344.05,489.60 344.06,491.10 344.06,492.60 344.07,494.10 344.08,495.60 344.09,497.10 344.09,498.60 344.10,500.10 344.11,501.59 344.12,503.09 344.12,504.59 344.13,506.09 344.14,507.59 344.15,509.09 344.15,510.59 344.16,512.09 344.17,513.59 344.18,515.08 344.19,516.58 344.19,518.08 344.20,519.58 344.22,521.08 344.23,522.58 344.24,524.08 344.25,525.58 344.26,527.07 344.28,528.57 344.29,530.07 344.30,531.57 344.31,533.07 344.33,534.57 344.34,536.07 344.35,537.57 344.37,539.06 344.38,540.56 344.39,542.06 344.41,543.56 344.42,545.06 344.43,546.56 344.45,548.06 344.46,549.56 344.47,551.05 344.48,552.55 344.50,554.05 344.51,555.55 344.52,557.05 344.54,558.55 344.55,560.05 344.56,561.55 344.58,563.04 344.59,564.54 344.60,566.04 344.62,567.54 344.63,569.04 344.64,570.54 344.66,572.04 344.67,573.54 344.68,575.03 344.69,576.53 344.71,578.03 344.72,579.53 344.73,581.03 344.75,582.53 344.76,584.03 344.77,585.53 344.79,587.02 344.80,588.52 344.81,590.02 344.83,591.52 344.84,593.02 344.85,594.52 344.86,596.02 344.88,597.52 344.89,599.01 344.90,600.51 344.91,602.01 344.92,603.51 344.93,605.01 344.94,606.51 344.95,608.01 344.96,609.51 344.96,611.00 344.97,612.50 344.98,614.00 344.99,615.50 345.00,617.00 1142.60,617.00"/>
<polyline stroke="#e377c2" points="157.00,617.30 158.41,617.80 159.83,618.29 161.24,618.77 162.67,619.23 164.09,619.67 165.53,620.09 166.97,620.49 168.42,620.85 169.87,621.19 171.33,621.50 172.80,621.78 174.27,622.03 175.75,622.25 177.23,622.44 178.72,622.61 180.20,622.75 181.69,622.86 183.19,622.95 184.68,623.02 186.17,623.07 187.67,623.11 189.17,623.14 190.66,623.17 192.16,623.20 193.66,623.23 195.16,623.25 196.66,623.28 198.15,623.30 199.65,623.33 201.15,623.35 202.65,623.38 204.14,623.41 205.64,623.43 207.14,623.46 208.64,623.49 210.13,623.52 211.63,623.56 213.13,623.59 214.63,623.63 216.12,623.67 217.62,623.70 219.12,623.74 220.62,623.78 222.11,623.82 223.61,623.86 225.11,623.90 226.60,623.94 228.10,623.98 229.60,624.02 231.10,624.06 232.59,624.11 234.09,624.15 235.59,624.19 237.09,624.24 238.58,624.29 240.08,624.35 241.58,624.41 243.07,624.47 244.57,624.54 246.06,624.61 247.56,624.68 249.06,624.75 250.55,624.82 252.05,624.89 253.55,624.96 255.04,625.02 256.54,625.09 258.03,625.16 259.53,625.23 261.03,625.30 262.52,625.37 264.02,625.44 265.52,625.51 267.01,625.59 268.51,625.67 270.00,625.76 271.50,625.85 272.99,625.95 274.49,626.05 275.98,626.16 277.47,626.26 278.97,626.37 280.46,626.49 281.95,626.60 283.45,626.71 284.94,626.83 286.43,626.94 287.93,627.06 289.42,627.18 290.91,627.31 292.41,627.43 293.90,627.56 295.39,627.69 296.88,627.82 298.37,627.96 299.87,628.09 301.36,628.23 302.85,628.37 304.34,628.52 305.83,628.68 307.31,628.86 308.80,629.05 310.28,629.25 311.76,629.48 313.23,629.71 314.71,629.96 316.18,630.20 317.66,630.45 319.14,630.68 320.62,630.90 322.10,631.11 323.58,631.30 325.07,631.48 326.56,631.65 328.05,631.82 329.53,631.98 331.02,632.14 332.51,632.29 334.00,632.45 334.50,632.50 335.89,632.11 337.16,631.51 338.24,630.61 339.13,629.49 339.82,628.23 340.41,626.89 340.95,625.52 341.46,624.15 341.96,622.76 342.48,621.39 343.06,620.06 343.80,618.85 344.80,617.93 346.05,617.35 346.50,617.20 1142.60,617.20"/>
</g>
<g fill="none" stroke="#000" stroke-width="2.22" stroke-linecap="square">
<rect x="108.1" y="8.0" width="1083.9" height="1096.9"/>
</g>
<path d="M157.00,1105 L157.00,1114.7 M354.20,1105 L354.20,1114.7 M551.40,1105 L551.40,1114.7 M748.60,1105 L748.60,1114.7 M945.80,1105 L945.80,1114.7 M1143.00,1105 L1143.00,1114.7 M108.1,1059.00 L98.4,1059.00 M108.1,911.71 L98.4,911.71 M108.1,764.43 L98.4,764.43 M108.1,617.14 L98.4,617.14 M108.1,469.85 L98.4,469.85 M108.1,322.57 L98.4,322.57 M108.1,175.28 L98.4,175.28 M108.1,28.00 L98.4,28.00" stroke="#000" stroke-width="2.22" fill="none"/>
<text x="109.10 126.42 135.58 153.24 170.89 188.55" y="1146.50 1146.50 1146.50 1146.50 1146.50 1146.50" font-size="29.4">0.0000</text>
<text x="306.77 324.09 333.25 350.90 368.56 385.85" y="1146.50 1146.50 1146.50 1146.50 1146.50 1146.50" font-size="29.4">0.0002</text>
<text x="503.36 520.68 529.84 547.49 565.15 582.80" y="1146.50 1146.50 1146.50 1146.50 1146.50 1146.50" font-size="29.4">0.0004</text>
<text x="700.66 717.97 727.13 744.79 762.44 780.10" y="1146.50 1146.50 1146.50 1146.50 1146.50 1146.50" font-size="29.4">0.0006</text>
<text x="897.93 915.25 924.41 942.06 959.72 977.37" y="1146.50 1146.50 1146.50 1146.50 1146.50 1146.50" font-size="29.4">0.0008</text>
<text x="1095.10 1112.42 1121.58 1139.24 1156.74 1174.55" y="1146.50 1146.50 1146.50 1146.50 1146.50 1146.50" font-size="29.4">0.0010</text>
<text x="71.47" y="38.5" font-size="29.4">4</text>
<text x="71.79" y="185.5" font-size="29.4">3</text>
<text x="71.20" y="332.7" font-size="29.4">2</text>
<text x="71.30" y="480.7" font-size="29.4">1</text>
<text x="72.72" y="627.4" font-size="29.4">0</text>
<text x="71.52" y="775.4" font-size="29.4">1</text>
<text transform="translate(59.75,776.80) scale(1.217,1)" x="-8.59" y="0" font-size="29.4">−</text>
<text x="71.20" y="922.7" font-size="29.4">2</text>
<text transform="translate(59.75,924.10) scale(1.217,1)" x="-8.59" y="0" font-size="29.4">−</text>
<text x="70.91" y="1069.4" font-size="29.4">3</text>
<text transform="translate(58.60,1070.80) scale(1.217,1)" x="-8.59" y="0" font-size="29.4">−</text>
<text x="593.19 610.36 618.83 644.92 661.90 670.74 681.30 697.35" y="1185.90 1185.90 1185.90 1185.90 1185.90 1184.08 1185.90 1184.08" font-size="29.4">Time <tspan font-size="26.46">(</tspan>s<tspan font-size="26.46">)</tspan></text>
<text transform="translate(28.8,758.0) rotate(-90)" x="-2.96 18.46 36.39 46.32 56.15 65.50 84.51 94.53 111.26 125.96 134.78 152.59 161.53 168.94 189.68 206.87 228.57 245.90 255.21 273.35 283.12 300.25 317.95 334.93 351.52 361.72 369.15 386.49" y="0.00 0.00 0.00 0.00 0.00 0.00 0.00 0.00 0.00 0.00 0.00 0.00 0.00 0.00 0.00 0.00 0.00 0.00 0.00 0.00 0.00 0.00 0.00 0.00 0.00 0.00 0.00 0.00" font-size="29.4">Net rates of C2H6 production</text>
<text x="523.65 541.35 548.76 569.04 590.78 608.07 616.91 628.65 650.38 676.26 685.74 697.29 717.81 725.22 745.97 763.15 784.85 802.19 811.03 822.76 844.50 870.37" y="59.00 59.00 59.00 59.00 59.00 59.00 57.18 62.13 59.00 57.18 59.00 59.00 59.00 59.00 59.00 59.00 59.00 59.00 57.18 62.13 59.00 57.18" font-size="29.4">2 CH3 <tspan font-size="26.46">(</tspan><tspan font-size="35.57">+</tspan>M<tspan font-size="26.46">)</tspan> = C2H6 <tspan font-size="26.46">(</tspan><tspan font-size="35.57">+</tspan>M<tspan font-size="26.46">)</tspan></text>
<text x="509.21 529.95 547.14 568.84 586.17 595.92 618.25 625.66 645.93 667.67 684.97 696.52 717.04 724.45 745.19 762.38 783.97 801.41 811.16 833.49 840.90 861.17 882.87" y="632.30 632.30 632.30 632.30 632.30 635.43 632.30 632.30 632.30 632.30 632.30 632.30 632.30 632.30 632.30 632.30 632.30 632.30 635.43 632.30 632.30 632.30 632.30" font-size="29.4">C2H6 <tspan font-size="35.57">+</tspan> CH3 = C2H5 <tspan font-size="35.57">+</tspan> CH4</text>
<text x="523.21 543.95 561.14 582.84 600.17 609.92 632.25 640.24 662.91 674.46 694.98 702.40 723.14 740.33 761.92 779.36 789.11 811.43 819.42 841.58" y="766.60 766.60 766.60 766.60 766.60 769.73 766.60 766.60 766.60 766.60 766.60 766.60 766.60 766.60 766.60 766.60 769.73 766.60 766.60 766.60" font-size="29.4">C2H6 <tspan font-size="35.57">+</tspan> O = C2H5 <tspan font-size="35.57">+</tspan> OH</text>
<text x="522.36 543.10 560.29 581.99 599.32 609.07 631.40 639.39 661.55 682.93 694.48 715.00 722.41 743.15 760.34 781.94 799.37 809.12 831.45 839.76 861.09 877.96" y="896.60 896.60 896.60 896.60 896.60 899.73 896.60 896.60 896.60 896.60 896.60 896.60 896.60 896.60 896.60 896.60 896.60 899.73 896.60 896.60 896.60 896.60" font-size="29.4">C2H6 <tspan font-size="35.57">+</tspan> OH = C2H5 <tspan font-size="35.57">+</tspan> H2O</text>
<text x="524.21 544.95 562.14 583.84 601.17 610.92 633.25 641.56 662.93 674.48 695.01 702.42 723.16 740.35 761.94 779.38 789.13 811.45 819.77 841.10" y="1055.60 1055.60 1055.60 1055.60 1055.60 1058.73 1055.60 1055.60 1055.60 1055.60 1055.60 1055.60 1055.60 1055.60 1055.60 1055.60 1058.73 1055.60 1055.60 1055.60" font-size="29.4">C2H6 <tspan font-size="35.57">+</tspan> H = C2H5 <tspan font-size="35.57">+</tspan> H2</text>
<g fill="none" stroke="#000" stroke-width="5.56" stroke-linecap="round" stroke-linejoin="round">
<path d="M511.90,47.50 L352.80,57.30 M363.54,51.07 L352.80,57.30 L364.22,62.17" />
<path d="M499.10,622.75 L346.00,631.00 M356.78,624.85 L346.00,631.00 L357.38,635.95" />
<path d="M513.20,756.25 L352.50,765.50 M363.26,759.31 L352.50,765.50 L363.90,770.41" />
<path d="M512.80,886.90 L352.00,896.20 M362.76,890.01 L352.00,896.20 L363.40,901.11" />
<path d="M514.10,1045.00 L353.20,1054.40 M363.96,1048.20 L353.20,1054.40 L364.61,1059.30" />
</g>
</svg></body></html>
